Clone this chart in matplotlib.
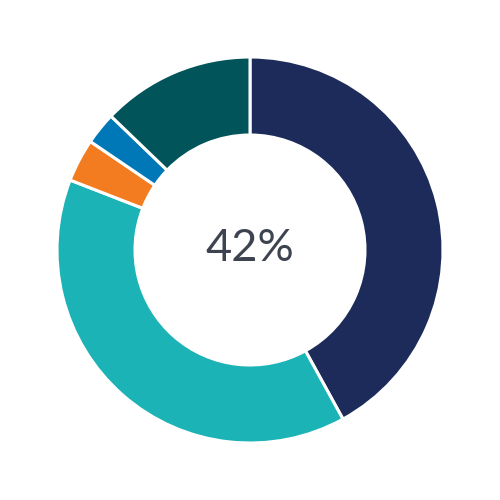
import matplotlib
matplotlib.use("Agg")
import matplotlib.pyplot as plt

labels = ["Navy", "Teal", "Orange", "Blue", "Dark green"]
values = [42, 38.9, 3.6, 2.7, 12.8]
colors = ["#1c2b5a", "#1bb3b6", "#f47c20", "#0077b6", "#00545a"]
center_text = "42%"

fig = plt.figure(figsize=(5, 5), dpi=100)
ax = fig.add_axes([0, 0, 1, 1])
R = 250 / 193
ax.pie(values, colors=colors, startangle=90, counterclock=False, radius=1,
       wedgeprops=dict(width=1 - 115 / 193, edgecolor="white", linewidth=2.2))
ax.text(0, 0.01, center_text, ha="center", va="center", fontsize=32.5,
        color="#3d4450", family=["Lato", "DejaVu Sans"])
ax.set_xlim(-R, R)
ax.set_ylim(-R, R)
ax.set_aspect("equal")
ax.axis("off")
fig.savefig("out.png", dpi=100, facecolor="white")
